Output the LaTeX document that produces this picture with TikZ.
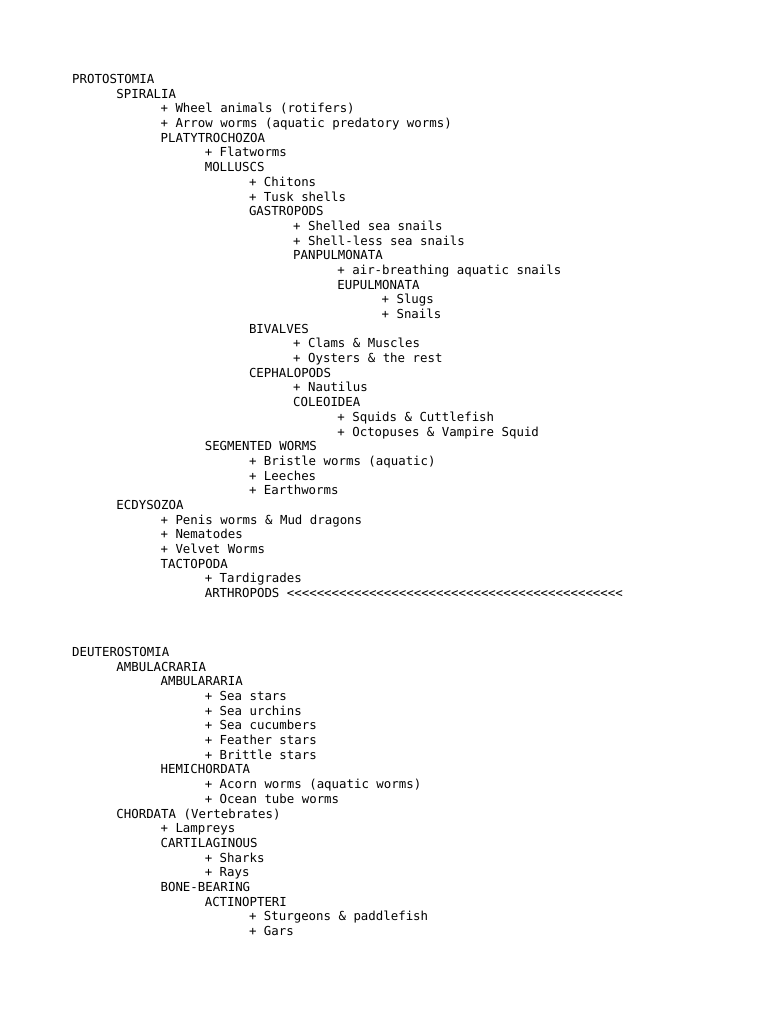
\documentclass[tikz,border=0pt]{standalone}
\usepackage{fontspec}
\setmonofont{DejaVu Sans Mono}
\begin{document}
\begin{tikzpicture}[x=1pt,y=-1pt,
  txt/.style={anchor=base west,inner sep=0pt,font=\ttfamily\fontsize{12.4}{15}\selectfont}]
\useasboundingbox[fill=white] (0,0) rectangle (768,1024);
\foreach \k/\l/\t in {
0/0/PROTOSTOMIA,
1/1/SPIRALIA,
2/2/+ Wheel animals (rotifers),
3/2/+ Arrow worms (aquatic predatory worms),
4/2/PLATYTROCHOZOA,
5/3/+ Flatworms,
6/3/MOLLUSCS,
7/4/+ Chitons,
8/4/+ Tusk shells,
9/4/GASTROPODS,
10/5/+ Shelled sea snails,
11/5/+ Shell-less sea snails,
12/5/PANPULMONATA,
13/6/+ air-breathing aquatic snails,
14/6/EUPULMONATA,
15/7/+ Slugs,
16/7/+ Snails,
17/4/BIVALVES,
18/5/+ Clams \& Muscles,
19/5/+ Oysters \& the rest,
20/4/CEPHALOPODS,
21/5/+ Nautilus,
22/5/COLEOIDEA,
23/6/+ Squids \& Cuttlefish,
24/6/+ Octopuses \& Vampire Squid,
25/3/SEGMENTED WORMS,
26/4/+ Bristle worms (aquatic),
27/4/+ Leeches,
28/4/+ Earthworms,
29/1/ECDYSOZOA,
30/2/+ Penis worms \& Mud dragons,
31/2/+ Nematodes,
32/2/+ Velvet Worms,
33/2/TACTOPODA,
34/3/+ Tardigrades,
35/3/ARTHROPODS <<<<<<<<<<<<<<<<<<<<<<<<<<<<<<<<<<<<<<<<<<<<<,
39/0/DEUTEROSTOMIA,
40/1/AMBULACRARIA,
41/2/AMBULARARIA,
42/3/+ Sea stars,
43/3/+ Sea urchins,
44/3/+ Sea cucumbers,
45/3/+ Feather stars,
46/3/+ Brittle stars,
47/2/HEMICHORDATA,
48/3/+ Acorn worms (aquatic worms),
49/3/+ Ocean tube worms,
50/1/CHORDATA (Vertebrates),
51/2/+ Lampreys,
52/2/CARTILAGINOUS,
53/3/+ Sharks,
54/3/+ Rays,
55/2/BONE-BEARING,
56/3/ACTINOPTERI,
57/4/+ Sturgeons \& paddlefish,
58/4/+ Gars}
{\node[txt] (n\k) at ({72+44.2*\l},{83.5+14.69*\k}) {\t};}
\end{tikzpicture}
\end{document}
